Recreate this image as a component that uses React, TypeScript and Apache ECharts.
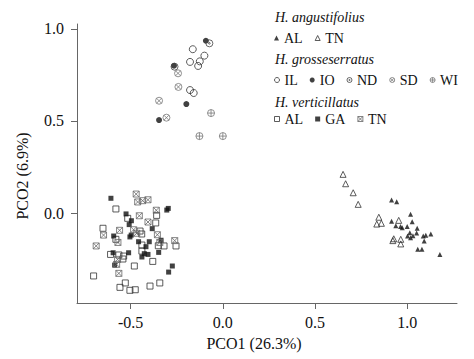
import React, { useEffect, useRef } from "react";
import * as echarts from "echarts";

type P = [number, number];

// H. angustifolius
const angAL: P[] = [
  [0.915, 0.071], [0.943, 0.061], [1.018, -0.007], [0.915, -0.045], [1.027, -0.047],
  [0.938, -0.069], [0.964, -0.074], [0.973, -0.08], [1.0, -0.074], [1.054, -0.083],
  [1.014, -0.107], [1.051, -0.109], [1.002, -0.125], [1.031, -0.123], [1.018, -0.134],
  [1.087, -0.125], [1.101, -0.121], [1.128, -0.114], [1.092, -0.152], [1.057, -0.197],
  [1.08, -0.197], [1.177, -0.225],
];
const angTN: P[] = [
  [0.652, 0.21], [0.666, 0.159], [0.707, 0.11], [0.734, 0.047], [0.846, -0.023],
  [0.835, -0.06], [0.86, -0.056], [0.954, -0.04], [0.927, -0.14], [0.922, -0.15],
  [0.965, -0.143], [0.965, -0.168],
];

// H. grosseserratus
const groIL: P[] = [
  [-0.163, 0.89], [-0.1, 0.855], [-0.178, 0.821], [-0.125, 0.824], [-0.134, 0.799],
  [-0.178, 0.668], [-0.158, 0.652],
];
const groIO: P[] = [[-0.092, 0.936], [-0.198, 0.592], [-0.346, 0.505], [-0.265, 0.8]];
const groND: P[] = [[-0.073, 0.922], [-0.262, 0.795]];
const groSD: P[] = [[-0.243, 0.759], [-0.241, 0.685], [-0.346, 0.61], [-0.306, 0.518]];
const groWI: P[] = [[-0.064, 0.543], [-0.127, 0.418], [0.0, 0.418]];

// H. verticillatus
const verAL: P[] = [
  [-0.58, 0.022], [-0.359, -0.013], [-0.516, -0.029], [-0.364, -0.054], [-0.65, -0.083],
  [-0.449, -0.098], [-0.44, -0.114], [-0.58, -0.143], [-0.439, -0.174], [-0.35, -0.178],
  [-0.319, -0.179], [-0.254, -0.179], [-0.609, -0.225], [-0.564, -0.228], [-0.538, -0.234],
  [-0.542, -0.25], [-0.439, -0.207], [-0.38, -0.263], [-0.48, -0.288], [-0.701, -0.342],
  [-0.529, -0.38], [-0.558, -0.404], [-0.504, -0.42], [-0.475, -0.417], [-0.395, -0.397],
  [-0.342, -0.38],
];
const verGA: P[] = [
  [-0.607, 0.08], [-0.525, -0.005], [-0.304, 0.016], [-0.296, 0.025], [-0.508, -0.063],
  [-0.496, -0.042], [-0.383, -0.085], [-0.592, -0.125], [-0.504, -0.13], [-0.497, -0.12],
  [-0.457, -0.156], [-0.399, -0.156], [-0.335, -0.148], [-0.417, -0.183], [-0.348, -0.214],
  [-0.595, -0.216], [-0.511, -0.216], [-0.439, -0.239], [-0.426, -0.221], [-0.406, -0.225],
  [-0.587, -0.283], [-0.274, -0.288], [-0.294, -0.321],
];
const verTN: P[] = [
  [-0.47, 0.103], [-0.435, 0.067], [-0.462, 0.06], [-0.406, 0.072], [-0.361, 0.015],
  [-0.453, -0.015], [-0.406, -0.049], [-0.56, -0.094], [-0.484, -0.091], [-0.467, -0.11],
  [-0.647, -0.12], [-0.355, -0.118], [-0.569, -0.16], [-0.342, -0.16], [-0.261, -0.15],
  [-0.687, -0.179], [-0.571, -0.252], [-0.576, -0.279], [-0.564, -0.328],
];

const xTicks = [-0.5, 0, 0.5, 1.0];
const yTicks = [0, 0.5, 1.0];
const groupTitles = ["H. angustifolius", "H. grosseserratus", "H. verticillatus"];

const FONT = "'Liberation Serif', 'DejaVu Serif', serif";
const CIRCLE = "M0,-5A5,5,0,1,1,0,5A5,5,0,1,1,0,-5Z";
const SYM_ND = "path://" + CIRCLE + "M0,-1.2A1.2,1.2,0,1,1,0,1.2A1.2,1.2,0,1,1,0,-1.2Z";
const SYM_SD = "path://" + CIRCLE + "M-3.5,-3.5L3.5,3.5M3.5,-3.5L-3.5,3.5";
const SYM_WI = "path://" + CIRCLE + "M-5,0L5,0M0,-5L0,5";
const SYM_TN = "path://M-5,-5L5,-5L5,5L-5,5ZM-5,-5L5,5M5,-5L-5,5";

export default function App() {
  const ref = useRef<HTMLDivElement>(null);
  useEffect(() => {
    if (!ref.current) return;
    const chart = echarts.init(ref.current, null, { renderer: "svg" });
    const filled = (c: string) => ({ color: c, borderWidth: 0 });
    const open = (c: string) => ({ color: "rgba(0,0,0,0)", borderColor: c, borderWidth: 1 });
    const defs: { name: string; data: P[]; symbol: string; size: number; style: any }[] = [
      { name: "ang|AL", data: angAL, symbol: "triangle", size: 5, style: filled("#111") },
      { name: "ang|TN", data: angTN, symbol: "triangle", size: 6, style: open("#333") },
      { name: "gro|IL", data: groIL, symbol: "circle", size: 7, style: open("#333") },
      { name: "gro|IO", data: groIO, symbol: "circle", size: 6, style: filled("#111") },
      { name: "gro|ND", data: groND, symbol: SYM_ND, size: 7, style: open("#444") },
      { name: "gro|SD", data: groSD, symbol: SYM_SD, size: 7, style: open("#777") },
      { name: "gro|WI", data: groWI, symbol: SYM_WI, size: 7, style: open("#777") },
      { name: "ver|AL", data: verAL, symbol: "rect", size: 6, style: open("#333") },
      { name: "ver|GA", data: verGA, symbol: "rect", size: 5, style: filled("#111") },
      { name: "ver|TN", data: verTN, symbol: SYM_TN, size: 6, style: open("#666") },
    ];
    const series = defs.map((d) => ({
      type: "scatter",
      name: d.name,
      data: d.data,
      symbol: d.symbol,
      symbolSize: d.size,
      itemStyle: d.style,
      emphasis: { disabled: true },
    }));
    const legendItems = (prefix: string) =>
      defs
        .filter((d) => d.name.startsWith(prefix))
        .map((d) => ({ name: d.name, icon: d.symbol, itemStyle: d.style }));
    const legendBase = {
      orient: "horizontal",
      left: 274,
      padding: 0,
      itemWidth: 5,
      itemHeight: 5,
      itemGap: 12,
      selectedMode: false,
      formatter: (n: string) => n.split("|")[1],
      textStyle: { fontFamily: FONT, fontSize: 14, color: "#111" },
    };
    const axisCommon = {
      axisLine: { show: true, onZero: false, lineStyle: { color: "#666", width: 1 } },
      axisTick: { show: true, length: 6, lineStyle: { color: "#666" } },
      splitLine: { show: false },
    };
    const labelCommon = {
      fontFamily: FONT,
      fontSize: 16,
      color: "#111",
      formatter: (v: number) => v.toFixed(1),
    };
    chart.setOption({
      animation: false,
      backgroundColor: "#fff",
      grid: { left: 77, right: 17, top: 24, bottom: 56 },
      xAxis: {
        type: "value",
        min: -0.791,
        max: 1.27,
        ...axisCommon,
        axisTick: { ...axisCommon.axisTick, customValues: xTicks },
        axisLabel: { ...labelCommon, customValues: xTicks, margin: 11 },
      },
      yAxis: {
        type: "value",
        min: -0.489,
        max: 1.027,
        ...axisCommon,
        axisTick: { ...axisCommon.axisTick, customValues: yTicks },
        axisLabel: { ...labelCommon, customValues: yTicks, margin: 13 },
      },
      legend: [
        { ...legendBase, top: 31, data: legendItems("ang|") },
        { ...legendBase, top: 73, data: legendItems("gro|") },
        { ...legendBase, top: 112, data: legendItems("ver|") },
      ],
      graphic: [
        ...groupTitles.map((t, i) => ({
          type: "text",
          left: 275,
          top: [10, 52, 95][i],
          style: { text: t, fontFamily: FONT, fontSize: 14, fontStyle: "italic", fill: "#111" },
        })),
        {
          type: "text",
          x: 254,
          y: 343,
          style: {
            text: "PCO1 (26.3%)",
            fontFamily: FONT,
            fontSize: 16,
            fill: "#111",
            align: "center",
            verticalAlign: "middle",
          },
        },
        {
          type: "text",
          x: 22,
          y: 176,
          rotation: Math.PI / 2,
          style: {
            text: "PCO2 (6.9%)",
            fontFamily: FONT,
            fontSize: 16,
            fill: "#111",
            align: "center",
            verticalAlign: "middle",
          },
        },
      ],
      series,
    });
    return () => chart.dispose();
  }, []);
  return (
    <div
      ref={ref}
      style={{ position: "fixed", left: 0, top: 0, width: 474, height: 359, background: "#fff" }}
    />
  );
}
